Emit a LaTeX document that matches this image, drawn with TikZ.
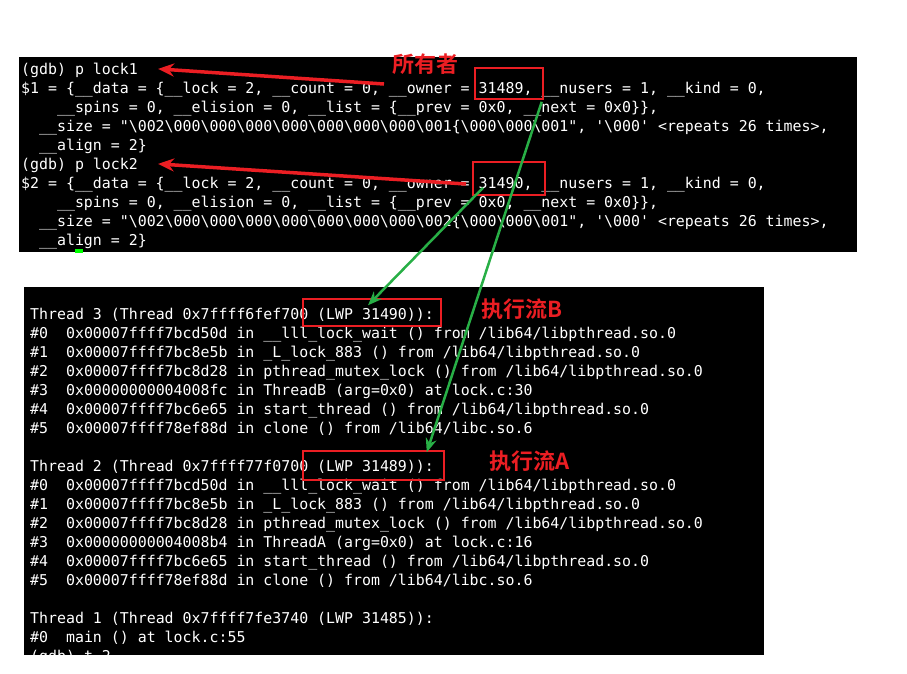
\documentclass[tikz,border=0pt]{standalone}
\usepackage{fontspec}
\setmonofont{DejaVu Sans Mono}
\newfontfamily\cjk{Noto Sans CJK SC Bold}
\usetikzlibrary{arrows.meta}
\newcommand\bs{\textbackslash}
\newcommand\tl[4]{\node[term] (#1) at (#2,#3) {#4};}
\definecolor{gdbred}{RGB}{235,30,35}
\definecolor{gdbgreen}{RGB}{40,175,70}
\tikzset{
  term/.style={anchor=base west,inner sep=0pt,text=white,font=\ttfamily\fontsize{14.9}{15}\selectfont},
  redbox/.style={draw=gdbred,line width=1.5pt},
  redarrow/.style={draw=gdbred,line width=3.5pt,-{Stealth[length=16pt,width=13pt]}},
  greenarrow/.style={draw=gdbgreen,line width=2.5pt,-{Stealth[length=14pt,width=11pt]}},
  lab/.style={text=gdbred,font=\cjk\fontsize{22}{24}\selectfont,inner sep=1pt}
}
\begin{document}
\begin{tikzpicture}[x=1pt,y=-1pt]
\useasboundingbox (0,0) rectangle (907,673);
\fill[black] (19,57) rectangle (857,252);
\fill[black] (24,287) rectangle (764,655);
\fill[green] (75,249) rectangle (83,253);
% top terminal
\tl{a1}{21}{74}{(gdb) p lock1}
\tl{a2}{21}{93}{\$1 = \{\_\_data = \{\_\_lock = 2, \_\_count = 0, \_\_owner = 31489, \_\_nusers = 1, \_\_kind = 0,}
\tl{a3}{21}{112}{~~~~\_\_spins = 0, \_\_elision = 0, \_\_list = \{\_\_prev = 0x0, \_\_next = 0x0\}\},}
\tl{a4}{21}{131}{~~\_\_size = "\bs002\bs000\bs000\bs000\bs000\bs000\bs000\bs000\bs001\{\bs000\bs000\bs001", '\bs000' <repeats 26 times>,}
\tl{a5}{21}{150}{~~\_\_align = 2\}}
\tl{b1}{21}{169}{(gdb) p lock2}
\tl{b2}{21}{188}{\$2 = \{\_\_data = \{\_\_lock = 2, \_\_count = 0, \_\_owner = 31490, \_\_nusers = 1, \_\_kind = 0,}
\tl{b3}{21}{207}{~~~~\_\_spins = 0, \_\_elision = 0, \_\_list = \{\_\_prev = 0x0, \_\_next = 0x0\}\},}
\tl{b4}{21}{226}{~~\_\_size = "\bs002\bs000\bs000\bs000\bs000\bs000\bs000\bs000\bs002\{\bs000\bs000\bs001", '\bs000' <repeats 26 times>,}
\tl{b5}{21}{245}{~~\_\_align = 2\}}
% bottom terminal
\begin{scope}
\clip (24,287) rectangle (764,655);
\tl{c1}{30}{319}{Thread 3 (Thread 0x7ffff6fef700 (LWP 31490)):}
\tl{c2}{30}{338}{\#0~~0x00007ffff7bcd50d in \_\_lll\_lock\_wait () from /lib64/libpthread.so.0}
\tl{c3}{30}{357}{\#1~~0x00007ffff7bc8e5b in \_L\_lock\_883 () from /lib64/libpthread.so.0}
\tl{c4}{30}{376}{\#2~~0x00007ffff7bc8d28 in pthread\_mutex\_lock () from /lib64/libpthread.so.0}
\tl{c5}{30}{395}{\#3~~0x00000000004008fc in ThreadB (arg=0x0) at lock.c:30}
\tl{c6}{30}{414}{\#4~~0x00007ffff7bc6e65 in start\_thread () from /lib64/libpthread.so.0}
\tl{c7}{30}{433}{\#5~~0x00007ffff78ef88d in clone () from /lib64/libc.so.6}
\tl{d1}{30}{471}{Thread 2 (Thread 0x7ffff77f0700 (LWP 31489)):}
\tl{d2}{30}{490}{\#0~~0x00007ffff7bcd50d in \_\_lll\_lock\_wait () from /lib64/libpthread.so.0}
\tl{d3}{30}{509}{\#1~~0x00007ffff7bc8e5b in \_L\_lock\_883 () from /lib64/libpthread.so.0}
\tl{d4}{30}{528}{\#2~~0x00007ffff7bc8d28 in pthread\_mutex\_lock () from /lib64/libpthread.so.0}
\tl{d5}{30}{547}{\#3~~0x00000000004008b4 in ThreadA (arg=0x0) at lock.c:16}
\tl{d6}{30}{566}{\#4~~0x00007ffff7bc6e65 in start\_thread () from /lib64/libpthread.so.0}
\tl{d7}{30}{585}{\#5~~0x00007ffff78ef88d in clone () from /lib64/libc.so.6}
\tl{e1}{30}{623}{Thread 1 (Thread 0x7ffff7fe3740 (LWP 31485)):}
\tl{e2}{30}{642}{\#0~~main () at lock.c:55}
\tl{e3}{30}{661}{(gdb) t 2}
\end{scope}
% red boxes
\node[redbox,minimum width=68pt,minimum height=31pt,inner sep=0pt] (o1) at (509,83.5) {};
\node[redbox,minimum width=72pt,minimum height=33pt,inner sep=0pt] (o2) at (509,178.5) {};
\node[redbox,minimum width=138pt,minimum height=27pt,inner sep=0pt] (l3) at (372,312.5) {};
\node[redbox,minimum width=141pt,minimum height=29pt,inner sep=0pt] (l2) at (373.5,465.5) {};
% labels
\node[lab] (own) at (425,64) {所有者};
\node[lab,anchor=west] (fb) at (480,309) {执行流B};
\node[lab,anchor=west] (fa) at (488,461) {执行流A};
% red arrows
\coordinate (r1s) at (384,84);
\coordinate (r2s) at (466,184);
\draw[redarrow] (r1s) -- ([xshift=20pt,yshift=1pt]a1.east);
\draw[redarrow] (r2s) -- ([xshift=20pt,yshift=1pt]b1.east);
% green arrows
\draw[greenarrow] ([xshift=-2pt,yshift=-2pt]o1.south east) -- ([xshift=-18pt,yshift=-2pt]l2.north east);
\draw[greenarrow] ([xshift=-26pt,yshift=8pt]o2.south) -- ([xshift=-4pt,yshift=-7pt]l3.north);
\end{tikzpicture}
\end{document}
